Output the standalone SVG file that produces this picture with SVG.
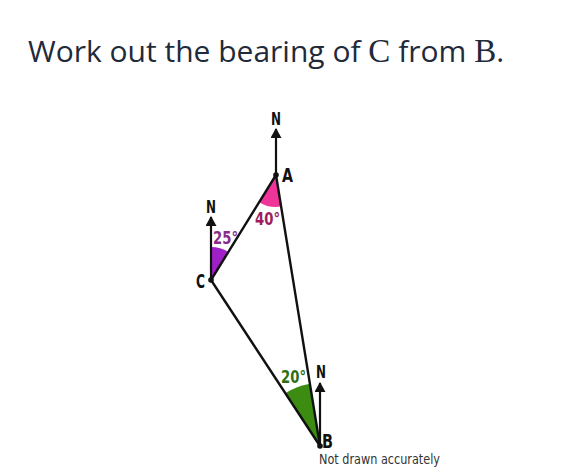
<svg xmlns="http://www.w3.org/2000/svg" width="579" height="476" viewBox="0 0 579 476">
<style>
.title{font-family:"Open Sans","Noto Sans",sans-serif;font-size:30px;fill:#1f2a3a}
.math{font-family:"Liberation Serif","DejaVu Serif",serif;font-size:33px;fill:#1f2a3a}
.lbl{font-family:"DejaVu Sans Condensed","DejaVu Sans",sans-serif;font-size:20px;fill:#111;font-weight:bold}
.n{font-size:17px}
.ang{font-size:18px}
.edge{stroke:#111;stroke-width:2.4;fill:none;stroke-linecap:round}
.north{stroke:#111;stroke-width:2.2;fill:none}
</style>
<defs>
<marker id="arr" markerWidth="10" markerHeight="11" refX="9" refY="5.5" orient="auto" markerUnits="userSpaceOnUse" viewBox="0 0 10 11">
<path d="M0,0 L10,5.5 L0,11 Z" fill="#111"/>
</marker>
</defs>
<rect width="579" height="476" fill="#fff"/>
<text class="title" x="28" y="62">Work out the bearing of <tspan class="math">C</tspan> from <tspan class="math">B</tspan>.</text>

<g id="angles">
<path d="M276,175 L259.1,202.2 A32,32 0 0,0 281.1,206.6 Z" fill="#f0359a"/>
<path d="M211,280 L211,247 A33,33 0 0,1 228.4,251.9 Z" fill="#a020c8"/>
<path d="M320,446 L285.4,393.3 A63,63 0 0,1 309.9,383.8 Z" fill="#3b8c10"/>
</g>

<g id="connectors">
<line class="edge" x1="276" y1="175" x2="211" y2="280"/>
<line class="edge" x1="276" y1="175" x2="320" y2="446"/>
<line class="edge" x1="211" y1="280" x2="320" y2="446"/>
<line class="north" x1="276" y1="175" x2="276" y2="129" marker-end="url(#arr)"/>
<line class="north" x1="211" y1="280" x2="211" y2="217" marker-end="url(#arr)"/>
<line class="north" x1="320" y1="446" x2="320" y2="383" marker-end="url(#arr)"/>
</g>

<g id="node-A">
<circle cx="276" cy="175" r="2.8" fill="#111"/>
<text class="lbl" x="282" y="182" textLength="11" lengthAdjust="spacingAndGlyphs">A</text>
<text class="lbl n" x="276" y="125" text-anchor="middle" textLength="10" lengthAdjust="spacingAndGlyphs">N</text>
<text class="lbl ang" x="255" y="225" textLength="25" lengthAdjust="spacingAndGlyphs" style="fill:#9e1b5f">40°</text>
</g>

<g id="node-C">
<circle cx="211" cy="280" r="2.8" fill="#111"/>
<text class="lbl" x="196" y="288" textLength="9" lengthAdjust="spacingAndGlyphs">C</text>
<text class="lbl n" x="211" y="213" text-anchor="middle" textLength="10" lengthAdjust="spacingAndGlyphs">N</text>
<text class="lbl ang" x="213" y="244" textLength="25" lengthAdjust="spacingAndGlyphs" style="fill:#8a2a8a">25°</text>
</g>

<g id="node-B">
<circle cx="320" cy="446" r="2.8" fill="#111"/>
<text class="lbl" x="322" y="448" textLength="11" lengthAdjust="spacingAndGlyphs">B</text>
<text class="lbl n" x="321" y="378" text-anchor="middle" textLength="10" lengthAdjust="spacingAndGlyphs">N</text>
<text class="lbl ang" x="281" y="383" textLength="25" lengthAdjust="spacingAndGlyphs" style="fill:#2e6e12">20°</text>
</g>

<text x="319" y="464" style="font-family:'DejaVu Sans Condensed','DejaVu Sans',sans-serif;font-size:14px;fill:#333" textLength="121" lengthAdjust="spacingAndGlyphs">Not drawn accurately</text>
</svg>
